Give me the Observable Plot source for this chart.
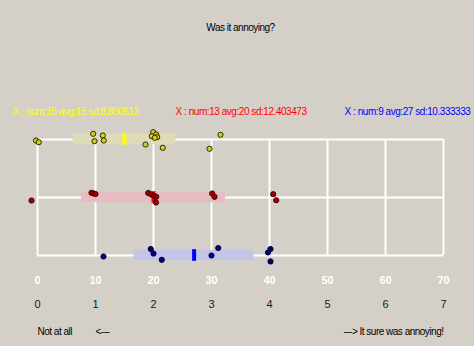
<!DOCTYPE html>
<html>
<head>
<meta charset="utf-8">
<script src="https://cdn.jsdelivr.net/npm/d3@7"></script>
<script src="https://cdn.jsdelivr.net/npm/@observablehq/plot@0.6"></script>
<style>
  html, body { margin: 0; padding: 0; background: #d4d0c8; }
  #chart svg { display: block; }
  /* tight, narrow lettering like the small system font */
  #chart g[aria-description="stats"] text { letter-spacing: -0.45px; }
  #chart g[aria-description="caption"] text { letter-spacing: -0.5px; }
</style>
</head>
<body>
<div id="chart"></div>
<script>
// Survey rows, top to bottom
const groupNames = ["yellow", "red", "blue"];
const counts = [15, 13, 9];
const averages = [15, 20, 27];
const deviations = [8.850612, 12.403473, 10.333333];

// Answers per row (0–70 scale) and the small vertical scatter of each dot (row units)
const yellowValues = [-0.26, 0.22, 9.6, 9.83, 11.26, 11.43, 19.95, 20.47, 19.71, 20.64, 20.22, 18.62, 21.6, 29.66, 31.55];
const yellowJitter = [0.017, 0.047, -0.098, 0.029, -0.069, 0.017, -0.126, -0.086, -0.057, -0.04, -0.029, 0.086, 0.143, 0.16, -0.081];
const redValues = [-1.03, 9.31, 9.66, 10.0, 19.09, 19.6, 20.05, 20.47, 20.43, 30.12, 30.52, 40.64, 41.16];
const redJitter = [0.052, -0.081, -0.069, -0.06, -0.078, -0.052, -0.029, -0.012, 0.086, -0.069, -0.012, -0.057, 0.047];
const blueValues = [11.38, 19.53, 20.0, 21.43, 30.0, 31.16, 40.17, 39.74, 40.17];
const blueJitter = [0.017, -0.112, -0.034, 0.074, 0, -0.129, -0.112, -0.052, 0.103];

// Axis labels
const xTicks = [0, 10, 20, 30, 40, 50, 60, 70];
const scaleLabels = ["0", "1", "2", "3", "4", "5", "6", "7"];
const titleText = "Was it annoying?";
const lowText = "Not at all";
const lowArrow = "<---";
const highText = "---> It sure was annoying!";

const values = [yellowValues, redValues, blueValues];
const jitters = [yellowJitter, redJitter, blueJitter];

const theme = {
  yellow: {band: "#dedcb6", mean: "#ffff00", dot: "#d0d01c", dotStroke: "#302a00", text: "#ffff00"},
  red:    {band: "#e6bcc0", mean: "#ff0000", dot: "#a80000", dotStroke: "#400000", text: "#ff0000"},
  blue:   {band: "#c2c4e8", mean: "#0000ff", dot: "#00007a", dotStroke: "#000030", text: "#0000ff"}
};
const statsOffset = [-25, 138, 307];

const rows = groupNames.map((_, i) => i);
const marks = [];

// white grid: one line per row, one per tick
marks.push(Plot.ruleY(rows, {y: d => d, x1: 0, x2: 70, stroke: "#ffffff", strokeWidth: 2}));
marks.push(Plot.ruleX(xTicks, {x: d => d, y1: 0, y2: 2, stroke: "#ffffff", strokeWidth: 2}));

groupNames.forEach((name, row) => {
  const t = theme[name];
  const avg = averages[row], sd = deviations[row];
  // mean ± sd band
  marks.push(Plot.rect([row], {
    x1: () => avg - sd, x2: () => avg + sd,
    y1: d => d - 0.09, y2: d => d + 0.09,
    fill: t.band
  }));
  // mean marker
  marks.push(Plot.ruleX([avg], {x: d => d, y1: row - 0.1, y2: row + 0.1, stroke: t.mean, strokeWidth: 4}));
  // individual answers
  const vs = values[row], js = jitters[row];
  marks.push(Plot.dot(d3.range(vs.length), {
    x: i => vs[i], y: i => row + js[i],
    r: 2.6, fill: t.dot, stroke: t.dotStroke, strokeWidth: 1
  }));
  // summary line above the grid
  const label = `X : num:${counts[row]} avg:${avg} sd:${sd.toFixed(6)}`;
  marks.push(Plot.text([label], {
    frameAnchor: "top-left", dx: statsOffset[row], dy: 111,
    textAnchor: "start", lineAnchor: "middle", fill: t.text, fontSize: 10,
    ariaDescription: "stats"
  }));
});

// title
marks.push(Plot.text([titleText], {frameAnchor: "top", dy: 27, lineAnchor: "middle", fill: "#000", fontSize: 10, ariaDescription: "caption"}));
// tick values in white, then the 0–7 scale below
marks.push(Plot.text(xTicks, {x: d => d, frameAnchor: "top", dy: 280, lineAnchor: "middle", fill: "#ffffff", fontWeight: "bold", fontSize: 11}));
marks.push(Plot.text(scaleLabels, {x: (d, i) => xTicks[i], frameAnchor: "top", dy: 304, lineAnchor: "middle", fill: "#1a1a1a", fontSize: 11}));
// scale ends
marks.push(Plot.text([lowText], {x: () => xTicks[0], frameAnchor: "top", dy: 331, lineAnchor: "middle", textAnchor: "start", fill: "#000", fontSize: 10, ariaDescription: "caption"}));
marks.push(Plot.text([lowArrow], {x: () => xTicks[1], frameAnchor: "top", dy: 331, lineAnchor: "middle", textAnchor: "start", fill: "#000", fontSize: 10, ariaDescription: "caption"}));
marks.push(Plot.text([highText], {x: () => xTicks[xTicks.length - 1], frameAnchor: "top", dy: 331, lineAnchor: "middle", textAnchor: "end", fill: "#000", fontSize: 10, ariaDescription: "caption"}));

const chart = Plot.plot({
  width: 474,
  height: 346,
  marginTop: 0,
  marginBottom: 0,
  marginLeft: 37,
  marginRight: 31,
  style: {
    background: "#d4d0c8",
    fontFamily: "'Liberation Sans', Arial, sans-serif",
    fontSize: "10px",
    overflow: "visible"
  },
  x: {domain: [0, 70], axis: null},
  y: {domain: [0, 2], range: [139, 255], axis: null},
  marks
});
document.getElementById("chart").appendChild(chart);
</script>
</body>
</html>
